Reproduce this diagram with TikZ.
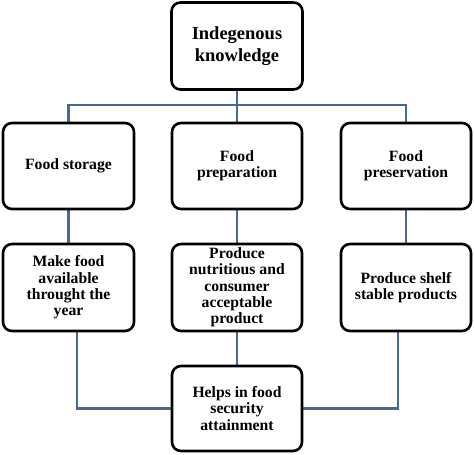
\documentclass[tikz,border=0pt]{standalone}
\usepackage{fontspec}
\setmainfont{Liberation Serif}
\usetikzlibrary{backgrounds}
\begin{document}
\begin{tikzpicture}[x=1pt,y=-1pt,
  box/.style={draw=black,line width=2.6pt,rounded corners=9pt,fill=white,
    align=center,inner sep=0pt,
    font=\fontsize{15.7}{16.3}\selectfont\bfseries},
  link/.style={draw=linkblue,line width=2.2pt}]
\definecolor{linkblue}{RGB}{68,106,156}
\useasboundingbox (0,0) rectangle (474,455);
\node[box, minimum width=131pt, minimum height=87pt,
  font=\fontsize{18.5}{22}\selectfont\bfseries] (ik) at (237,46) {Indegenous\\knowledge};
\node[box, minimum width=131pt, minimum height=86pt] (fs) at (68.5,166) {Food storage};
\node[box, minimum width=130pt, minimum height=86pt] (fp) at (237,166) {Food\\preparation};
\node[box, minimum width=130pt, minimum height=86pt] (fv) at (406,166) {Food\\preservation};
\node[box, minimum width=131pt, minimum height=87pt] (mf) at (68.5,287.5) {Make food\\available\\throught the\\year};
\node[box, minimum width=130pt, minimum height=87pt] (pn) at (237,287.5) {Produce\\nutritious and\\consumer\\acceptable\\product};
\node[box, minimum width=130pt, minimum height=87pt] (ps) at (406,287.5) {Produce shelf\\stable products};
\node[box, minimum width=130pt, minimum height=85pt] (hf) at (237,408.5) {Helps in food\\security\\attainment};
\coordinate (barL) at (68.5,105);
\coordinate (barR) at (406,105);
\coordinate (mfo) at (77,331);
\coordinate (pso) at (398,331);
\begin{scope}[on background layer]
\path[link] (ik.south) -- (ik.south |- barL);
\path[link] (fs.north) -- (barL) -- (barR) -- (fv.north);
\path[link] (fp.north) -- (fp.north |- barL);
\path[link] (fs.south) -- (mf.north);
\path[link] (fp.south) -- (pn.north);
\path[link] (fv.south) -- (ps.north);
\path[link] (pn.south) -- (hf.north);
\path[link] (mfo) |- (hf.west);
\path[link] (pso) |- (hf.east);
\end{scope}
\end{tikzpicture}
\end{document}
